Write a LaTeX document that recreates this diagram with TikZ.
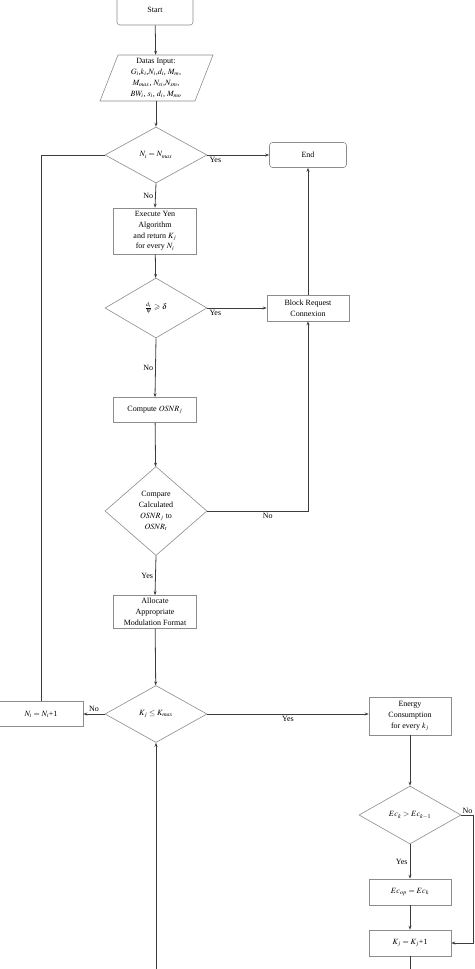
\documentclass[tikz,border=0pt]{standalone}
\usepackage{amsmath,amssymb}
\usepackage{mathptmx}
\usepackage{fontspec}
\setmainfont{Liberation Serif}
\usetikzlibrary{shapes.geometric,arrows.meta}
\definecolor{boxgray}{HTML}{8C8C8C}
\definecolor{linegray}{HTML}{3C3C3C}
\begin{document}
\begin{tikzpicture}[x=1pt,y=-1pt,
  box/.style={draw=boxgray, line width=0.6pt, fill=white, inner sep=1pt, align=center, font=\fontsize{8}{10.8}\selectfont},
  rbox/.style={box, rounded corners=3pt},
  dec/.style={diamond, draw=boxgray, line width=0.6pt, fill=white, inner sep=0pt, align=center, font=\fontsize{8}{10.8}\selectfont},
  conn/.style={draw=linegray, line width=0.8pt},
  arr/.style={conn, -{Stealth[length=4pt,width=3pt]}},
  lab/.style={font=\fontsize{8}{9}\selectfont, inner sep=2pt}]
\useasboundingbox (0,0) rectangle (474,969);
% nodes
\node[rbox, minimum width=76pt, minimum height=30pt] (start) at (155,10) {Start};
\node[align=center, inner sep=0pt, minimum height=46pt, font=\fontsize{8}{11}\selectfont] (data) at (156,78)
  {Datas Input:\\$G_i$,$k_i$,$N_i$,$d_i$, $M_m$,\\$M_{max}$, $N_{si}$,$N_{sm}$,\\$BW_i$, $s_i$, $d_i$, $M_{mo}$};
\draw[draw=boxgray, line width=0.6pt] (100,101) -- (118,55) -- (213,55) -- (195,101) -- cycle;
\node[dec, minimum width=102pt, minimum height=56pt] (d1) at (156,155) {$N_i = N_{max}$};
\node[rbox, minimum width=77pt, minimum height=25pt] (end) at (308,155) {End};
\node[box, minimum width=83pt, minimum height=46pt] (yen) at (155,231) {Execute Yen\\Algorithm\\and return $K_j$\\for every $N_i$};
\node[dec, minimum width=102pt, minimum height=60pt] (d2) at (156,308) {$\frac{d_i}{\psi} \geqslant \delta$};
\node[box, minimum width=82pt, minimum height=26pt] (block) at (308,308) {Block Request\\Connexion};
\node[box, minimum width=83pt, minimum height=25pt] (comp) at (155,410) {Compute $OSNR_j$};
\node[dec, minimum width=102pt, minimum height=89pt] (d3) at (156,511) {Compare\\Calculated\\$OSNR_j$ to\\$OSNR_t$};
\node[box, minimum width=83pt, minimum height=33pt] (alloc) at (155,612) {Allocate\\Appropriate\\Modulation Format};
\node[dec, minimum width=102pt, minimum height=57pt] (d4) at (156,714) {$K_j \leq K_{max}$};
\node[box, minimum width=84pt, minimum height=25pt] (ninc) at (41,714) {$N_i = N_i$+1};
\node[box, minimum width=82pt, minimum height=38pt] (energy) at (410,716) {Energy\\Consumption\\for every $k_j$};
\node[dec, minimum width=102pt, minimum height=58pt] (d5) at (410,815) {$Ec_k > Ec_{k-1}$};
\node[box, minimum width=82pt, minimum height=26pt] (ecop) at (410,892) {$Ec_{op} = Ec_k$};
\node[box, minimum width=82pt, minimum height=26pt] (kinc) at (410,943) {$K_j = K_j$+1};
\coordinate (rc) at (473,815);
\coordinate (b1) at (410,969);
\coordinate (b2) at (156,969);
% connectors
\draw[arr] (start) -- (data);
\draw[arr] (data) -- (d1);
\draw[arr] (d1.east) -- (end.west);
\node[lab, anchor=north west] at (d1.east) {Yes};
\draw[arr] (d1.south) -- node[lab, left] {No} (yen.north);
\draw[arr] (yen) -- (d2);
\draw[arr] (d2.east) -- (block.west);
\node[lab, anchor=north west] at (d2.east) {Yes};
\draw[arr] (block) -- (end);
\draw[arr] (d2.south) -- node[lab, left] {No} (comp.north);
\draw[arr] (comp) -- (d3);
\draw[arr] (d3.east) -| node[lab, below, pos=0.3] {No} (block.south);
\draw[arr] (d3.south) -- node[lab, left] {Yes} (alloc.north);
\draw[arr] (alloc) -- (d4);
\draw[arr] (d4.west) -- node[lab, above] {No} (ninc.east);
\draw[conn] (ninc.north) |- (d1.west);
\draw[arr] (d4.east) -- node[lab, below] {Yes} (energy.west |- d4.east);
\draw[arr] (energy) -- (d5);
\draw[arr] (d5.east) -- (rc) |- (kinc.east);
\node[lab, anchor=south west, inner sep=1pt] at (d5.east) {No};
\draw[arr] (d5.south) -- node[lab, left] {Yes} (ecop.north);
\draw[arr] (ecop) -- (kinc);
\draw[conn] (kinc.south) -- (b1);
\draw[arr] (b2) -- (d4.south);
\end{tikzpicture}
\end{document}
